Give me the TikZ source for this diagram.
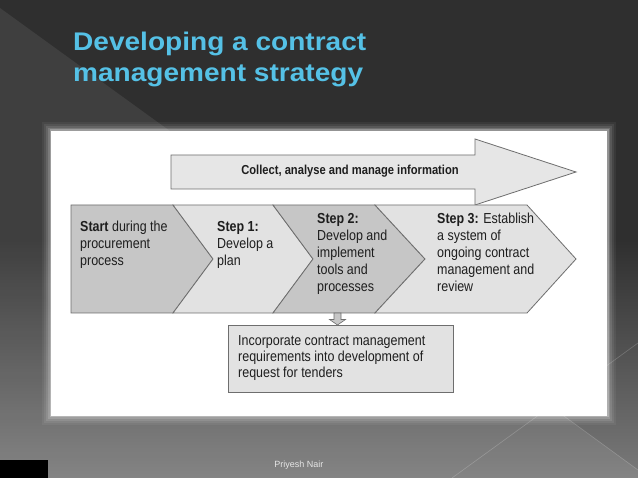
\documentclass[tikz,border=0pt]{standalone}
\usepackage{fontspec}
\setmainfont{Liberation Sans}
\newfontfamily\dfont[FakeStretch=0.86]{Liberation Sans}
\newfontfamily\tfont[FakeStretch=1.1]{Liberation Sans}
\usetikzlibrary{calc}
\definecolor{bgdark}{HTML}{2F2F2F}
\definecolor{bglight}{HTML}{7A7A7A}
\definecolor{titleblue}{HTML}{55C1E6}
\definecolor{edge}{HTML}{6E6E6E}
\definecolor{fdark}{HTML}{C6C6C6}
\definecolor{flight}{HTML}{E2E2E2}
\definecolor{farrow}{HTML}{E6E6E6}
\definecolor{ink}{HTML}{1E1E1E}
\definecolor{foot}{HTML}{E6E6E6}
\begin{document}
\begin{tikzpicture}[x=1pt,y=-1pt,
  chev/.style={draw=edge,line width=0.8pt,line join=miter},
  txt/.style={font=\dfont\fontsize{14.5}{17}\selectfont,text=ink,align=left,anchor=base west,inner sep=0pt},
  boxtxt/.style={font=\dfont\fontsize{14.5}{16}\selectfont,text=ink,align=left,anchor=base west,inner sep=0pt},
  ttl/.style={font=\tfont\bfseries\fontsize{25.5}{31}\selectfont,text=titleblue,anchor=base west,inner sep=0pt},
  blk/.style={draw=edge,fill=fdark,line width=0.6pt}]
\useasboundingbox (0,0) rectangle (638,478);
% background
\fill[bgdark] (0,0) rectangle (638,478);
\shade[top color=bgdark, bottom color=bglight] (0,240) rectangle (638,478);
\fill[white,opacity=0.08] (0,8) -- (638,470) -- (638,478) -- (0,478) -- cycle;
\draw[white,opacity=0.2,line width=0.6pt] (520,384) -- (638,470);
\draw[white,opacity=0.2,line width=0.6pt] (638,343) -- (452,478);
\fill[black] (0,460) rectangle (48,478);
% title
\node[ttl] (t1) at (73,51) {Developing a contract};
\node[ttl] (t2) at (73,82) {management strategy};
% panel with glow
\foreach \g/\o in {9/0.05,7/0.07,5/0.1,3/0.15,1.5/0.25}
  \fill[white,opacity=\o] ({51-\g},{131-\g}) rectangle ({607+\g},{416+\g});
\fill[white] (51,131) rectangle (607,416);
% information arrow
\path[chev,fill=farrow] (171,155) -- (475,155) -- (475,139) -- (576,172) -- (475,205) -- (475,189) -- (171,189) -- cycle;
\node[font=\dfont\bfseries\fontsize{13}{15}\selectfont,text=ink,inner sep=0pt] (info) at (350,171) {Collect, analyse and manage information};
% chevrons
\path[chev,fill=fdark] (71,205) -- (173,205) -- (213,259) -- (173,313) -- (71,313) -- cycle;
\path[chev,fill=flight] (173,205) -- (273,205) -- (313,259) -- (273,313) -- (173,313) -- (213,259) -- cycle;
\path[chev,fill=fdark] (273,205) -- (375,205) -- (425,259) -- (375,313) -- (273,313) -- (313,259) -- cycle;
\path[chev,fill=flight] (375,205) -- (527,205) -- (576,259) -- (527,313) -- (375,313) -- (425,259) -- cycle;
% (base anchor of a multi-line node = baseline of its last line)
\node[txt] (start) at (80,266) {{\bfseries Start} during the\\procurement\\process};
\node[txt] (step1) at (217,266) {{\bfseries Step 1:}\\Develop a\\plan};
\node[txt] (step2) at (317,292) {{\bfseries Step 2:}\\Develop and\\implement\\tools and\\processes};
\node[txt] (step3) at (437,292) {{\bfseries Step 3:} Establish\\a system of\\ongoing contract\\management and\\review};
% bottom box
\node[chev,fill=flight,minimum width=225pt,minimum height=67pt,anchor=north west,inner sep=0pt] (box) at (228,325) {};
\node[boxtxt] (boxtext) at (238,378) {Incorporate contract management\\requirements into development of\\request for tenders};
% small block arrow from step 2 down to the box
\coordinate (s2b) at (337.5,313);
\coordinate (bt) at (box.north -| s2b);
\draw[blk] ($(s2b)+(-3.5,0)$) -- ($(s2b)+(3.5,0)$) -- ($(bt)+(3.5,-5.5)$) -- ($(bt)+(8,-5.5)$) -- (bt) -- ($(bt)+(-8,-5.5)$) -- ($(bt)+(-3.5,-5.5)$) -- cycle;
% footer
\node[font=\fontsize{9}{11}\selectfont,text=foot,inner sep=0pt] (footer) at (299,465) {Priyesh Nair};
\end{tikzpicture}
\end{document}
